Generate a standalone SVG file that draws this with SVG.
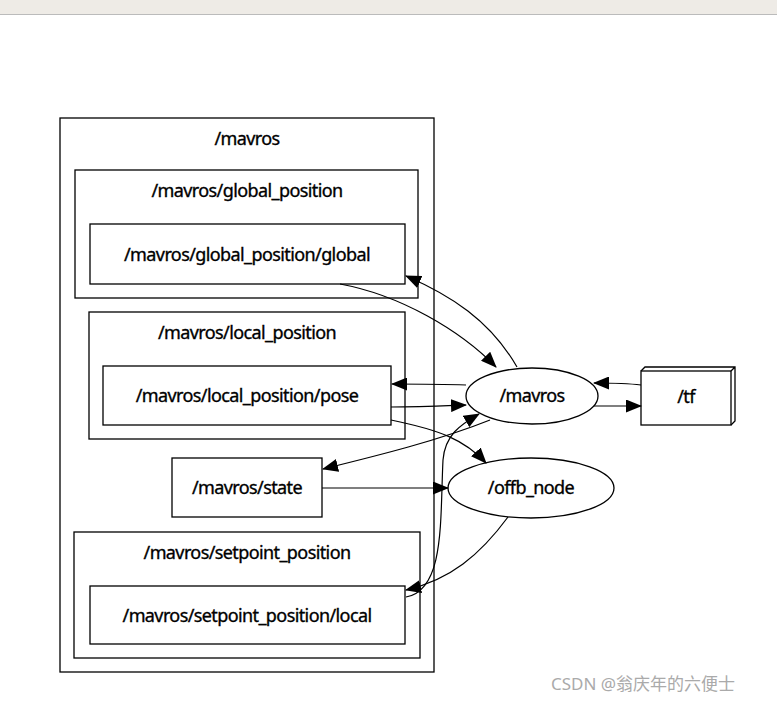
<svg xmlns="http://www.w3.org/2000/svg" width="777" height="702" viewBox="0 0 777 702">
<style>
text{font-family:"Noto Sans","DejaVu Sans",sans-serif;font-size:18px;text-anchor:middle;fill:#000;stroke:#000;stroke-width:0.35;letter-spacing:-0.6px}
.b{fill:none;stroke:#000;stroke-width:1.3}
.n{fill:#fff;stroke:#000;stroke-width:1.3}
.e{fill:none;stroke:#000;stroke-width:1.2;marker-end:url(#a)}
</style>
<defs><marker id="a" markerWidth="16" markerHeight="13" refX="15" refY="6.5" orient="auto" markerUnits="userSpaceOnUse"><path d="M0,0 L16,6.5 L0,13 Z" fill="#000"/></marker></defs>
<rect x="0" y="0" width="777" height="14" fill="#eeebe6"/>
<line x1="0" y1="14.5" x2="777" y2="14.5" stroke="#bbb"/>
<g id="cluster_mavros"><rect class="b" x="60" y="118" width="374" height="554"/><text x="247" y="145">/mavros</text></g>
<g id="cluster_global"><rect class="b" x="75" y="170" width="343" height="128"/><text x="247" y="197">/mavros/global_position</text></g>
<g id="cluster_local"><rect class="b" x="89" y="312" width="316" height="127"/><text x="247" y="339">/mavros/local_position</text></g>
<g id="cluster_setpoint"><rect class="b" x="74" y="532" width="346" height="126"/><text x="247" y="559">/mavros/setpoint_position</text></g>
<g id="global"><rect class="n" x="90" y="224" width="315" height="60"/><text x="247" y="261">/mavros/global_position/global</text></g>
<g id="pose"><rect class="n" x="103" y="366" width="288" height="59"/><text x="247" y="402">/mavros/local_position/pose</text></g>
<g id="state"><rect class="n" x="172" y="458" width="150" height="59"/><text x="247" y="494">/mavros/state</text></g>
<g id="local"><rect class="n" x="90" y="586" width="315" height="58"/><text x="247" y="622">/mavros/setpoint_position/local</text></g>
<g id="mavros_node"><ellipse class="n" cx="532" cy="396" rx="66" ry="28"/><text x="532" y="402">/mavros</text></g>
<g id="offb_node"><ellipse class="n" cx="531" cy="488" rx="83" ry="30"/><text x="531" y="494">/offb_node</text></g>
<g id="tf"><path class="n" d="M641,371 L645,367 L735,367 L735,421 L731,425 M731,371 L735,367"/><rect class="n" x="641" y="371" width="90" height="54"/><text x="686" y="403">/tf</text></g>
<g id="edges">
<path class="e" d="M340,284 C400,295 460,330 496,367"/>
<path class="e" d="M517,367 C490,320 450,295 406,276"/>
<path class="e" d="M466,385 C440,384 420,384 392,384"/>
<path class="e" d="M391,407 C420,407 440,406 466,405"/>
<path class="e" d="M391,420 C440,430 465,440 486,463"/>
<path class="e" d="M490,420 C440,440 380,455 323,469"/>
<path class="e" d="M322,488 L448,488"/>
<path class="e" d="M508,517 C480,555 450,580 406,590"/>
<path class="e" d="M406,597 C445,590 440,520 443,460 C445,435 460,425 479,414"/>
<path class="e" d="M641,385 C625,383 610,383 594,383"/>
<path class="e" d="M594,406 L641,406"/>
</g>
<text x="551" y="690" style="text-anchor:start;fill:#aaa;stroke:none;letter-spacing:0;font-size:17px;font-family:'Noto Sans','Noto Sans CJK SC',sans-serif">CSDN @翁庆年的六便士</text>
</svg>
